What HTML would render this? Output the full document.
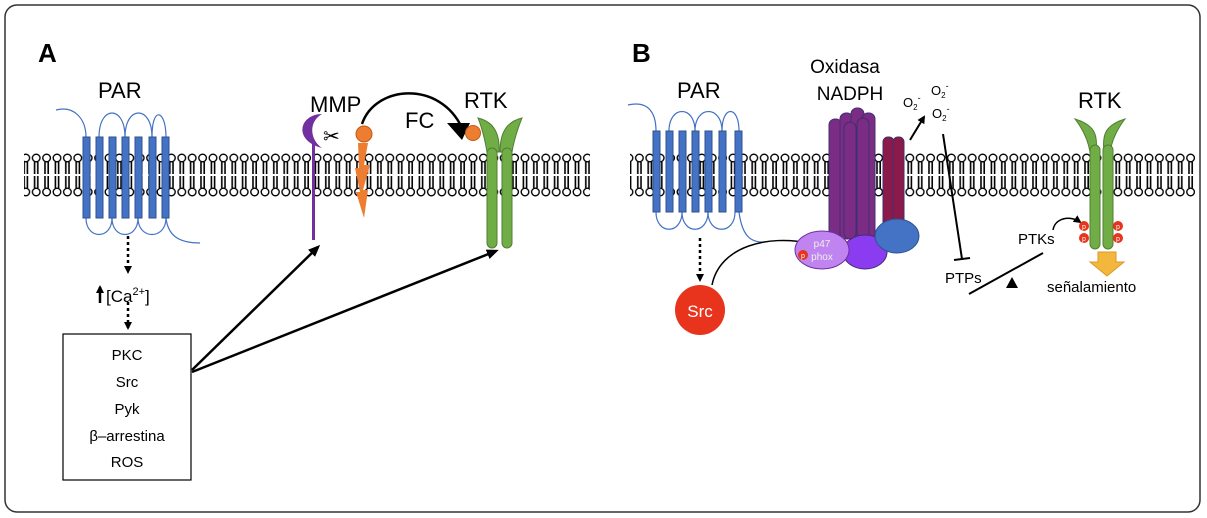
<!DOCTYPE html>
<html><head><meta charset="utf-8"><style>
html,body{margin:0;padding:0;background:#fff}
svg{display:block}
text{font-family:"Liberation Sans","DejaVu Sans",sans-serif}
</style></head><body>
<svg width="1207" height="518" viewBox="0 0 1207 518" xmlns="http://www.w3.org/2000/svg">
<defs>
<pattern id="mem" x="0" y="0" width="10.4" height="518" patternUnits="userSpaceOnUse">
<circle cx="5" cy="158" r="3.8" fill="#fff" stroke="#000" stroke-width="1.4"/>
<circle cx="5" cy="192" r="3.8" fill="#fff" stroke="#000" stroke-width="1.4"/>
<rect x="2.6" y="162" width="1.6" height="12" fill="#000"/>
<rect x="5.8" y="162" width="1.6" height="12" fill="#000"/>
<rect x="2.6" y="176" width="1.6" height="12" fill="#000"/>
<rect x="5.8" y="176" width="1.6" height="12" fill="#000"/>
</pattern>
<marker id="ah" markerWidth="8" markerHeight="8" refX="6" refY="4" orient="auto" markerUnits="userSpaceOnUse"><path d="M0,0 L8,4 L0,8 z" fill="#000"/></marker>
<marker id="ah2" markerWidth="12" markerHeight="10" refX="9" refY="5" orient="auto" markerUnits="userSpaceOnUse"><path d="M0,0 L12,5 L0,10 z" fill="#000"/></marker>
</defs>
<rect x="5" y="5" width="1195" height="507" rx="12" fill="#fff" stroke="#333" stroke-width="1.5"/>
<rect x="24" y="150" width="566" height="48" fill="url(#mem)"/>
<rect x="630" y="150" width="565" height="48" fill="url(#mem)"/>

<text x="38" y="62" font-size="26" font-weight="bold">A</text>
<text x="632" y="62" font-size="26" font-weight="bold">B</text>
<text x="98" y="98" font-size="22">PAR</text>
<text x="677" y="98" font-size="22">PAR</text>

<!-- PAR A -->
<g fill="none" stroke="#4472c4" stroke-width="1.2">
<path d="M56,110 C75,105 86,120 86,137"/>
<path d="M99,137 C99,105 125,105 125,137"/>
<path d="M125,137 C125,105 152,105 152,137"/>
<path d="M152,137 C152,105 166,110 166,137"/>
<path d="M86,218 C86,240 112,240 112,218"/>
<path d="M112,218 C112,240 138,240 138,218"/>
<path d="M138,218 C138,240 166,240 166,218"/>
<path d="M166,218 C168,235 178,243 200,243"/>
</g>
<g fill="#4472c4" stroke="#2f528f" stroke-width="1">
<rect x="83" y="137" width="7" height="81"/><rect x="96" y="137" width="7" height="81"/><rect x="109" y="137" width="7" height="81"/><rect x="122" y="137" width="7" height="81"/><rect x="135" y="137" width="7" height="81"/><rect x="149" y="137" width="7" height="81"/><rect x="162" y="137" width="7" height="81"/>
</g>
<line x1="128" y1="236" x2="128" y2="272" stroke="#000" stroke-width="2.5" stroke-dasharray="3,3" marker-end="url(#ah)"/>
<line x1="128" y1="302" x2="128" y2="328" stroke="#000" stroke-width="2.5" stroke-dasharray="3,3" marker-end="url(#ah)"/>
<line x1="100" y1="303" x2="100" y2="287" stroke="#000" stroke-width="2.5" marker-end="url(#ah)"/>
<text x="106" y="302" font-size="17">[Ca<tspan font-size="11" dy="-7">2+</tspan><tspan dy="7">]</tspan></text>
<rect x="63" y="334" width="128" height="146" fill="#fff" stroke="#000" stroke-width="1.2"/>
<g font-size="15" text-anchor="middle">
<text x="127" y="360">PKC</text><text x="127" y="387">Src</text><text x="127" y="414">Pyk</text><text x="127" y="441">β–arrestina</text><text x="127" y="467">ROS</text>
</g>
<line x1="192" y1="370" x2="318" y2="247" stroke="#000" stroke-width="2.5" marker-end="url(#ah2)"/>
<line x1="192" y1="372" x2="496" y2="251" stroke="#000" stroke-width="2.5" marker-end="url(#ah2)"/>

<!-- MMP -->
<text x="310" y="112" font-size="22">MMP</text>
<path d="M322,114 C300,114 292,140 322,148 C310,140 308,122 322,114 z" fill="#7030a0"/>
<rect x="312" y="140" width="3" height="100" fill="#7030a0"/>
<text x="323" y="143" font-size="20">✂</text>
<circle cx="364" cy="134" r="8" fill="#ed7d31" stroke="#c55a11"/>
<path d="M358,143 L368,143 L364,165 L370,165 L363,190 L368,190 L364,218 L356,192 L360,192 L355,168 L359,168 z" fill="#ed7d31"/>
<path d="M362,124 C375,85 440,80 462,128" fill="none" stroke="#000" stroke-width="2.5"/>
<path d="M447,123 L470,123 L462,140 z" fill="#000"/>
<text x="405" y="128" font-size="22">FC</text>
<circle cx="473" cy="133" r="7.5" fill="#ed7d31" stroke="#c55a11"/>
<!-- RTK A -->
<text x="464" y="108" font-size="22">RTK</text>
<g fill="#70ad47" stroke="#507e32" stroke-width="1">
<path d="M478,118 C495,122 500,135 499,152 L487,152 C485,140 482,128 478,118 z"/>
<path d="M522,118 C505,122 500,135 500,152 L512,152 C514,140 518,128 522,118 z"/>
<rect x="487" y="148" width="10" height="100" rx="5"/>
<rect x="502" y="148" width="10" height="100" rx="5"/>
</g>

<!-- PAR B -->
<g fill="none" stroke="#4472c4" stroke-width="1.2">
<path d="M628,105 C650,100 656,115 656,131"/>
<path d="M669,131 C669,105 695,105 695,131"/>
<path d="M695,131 C695,105 722,105 722,131"/>
<path d="M722,131 C722,105 739,105 739,131"/>
<path d="M656,212 C656,235 682,235 682,212"/>
<path d="M682,212 C682,235 708,235 708,212"/>
<path d="M708,212 C708,235 735,235 735,212"/>
<path d="M739,212 C742,235 750,243 765,242"/>
</g>
<g fill="#4472c4" stroke="#2f528f" stroke-width="1">
<rect x="653" y="131" width="7" height="81"/><rect x="666" y="131" width="7" height="81"/><rect x="679" y="131" width="7" height="81"/><rect x="692" y="131" width="7" height="81"/><rect x="705" y="131" width="7" height="81"/><rect x="719" y="131" width="7" height="81"/><rect x="735" y="131" width="7" height="81"/>
</g>
<line x1="700" y1="238" x2="700" y2="280" stroke="#000" stroke-width="2.5" stroke-dasharray="3,3" marker-end="url(#ah)"/>
<circle cx="700" cy="310" r="25" fill="#e8341c"/>
<text x="700" y="317" font-size="17" fill="#fff" text-anchor="middle">Src</text>
<path d="M712,285 C720,245 770,235 808,243" fill="none" stroke="#000" stroke-width="1.5" marker-end="url(#ah)"/>

<!-- NADPH -->
<text x="845" y="73" font-size="19" text-anchor="middle">Oxidasa</text>
<text x="850" y="100" font-size="19" text-anchor="middle">NADPH</text>
<g fill="#7b2c85" stroke="#3f2f6e" stroke-width="1">
<rect x="829" y="119" width="13" height="120" rx="6"/>
<rect x="840" y="113" width="13" height="126" rx="6"/>
<rect x="851" y="108" width="13" height="131" rx="6"/>
<rect x="862" y="113" width="13" height="126" rx="6"/>
<rect x="844" y="122" width="12" height="117" rx="6"/>
<rect x="857" y="118" width="12" height="121" rx="6"/>
</g>
<g fill="#8b1a4a" stroke="#3f2f6e" stroke-width="1">
<rect x="883" y="137" width="11" height="100" rx="5"/>
<rect x="893" y="137" width="11" height="100" rx="5"/>
</g>
<ellipse cx="865" cy="252" rx="22" ry="17" fill="#8b3cf0" stroke="#3f2f6e"/>
<ellipse cx="897" cy="236" rx="22" ry="17" fill="#4472c4" stroke="#2f528f"/>
<ellipse cx="822" cy="250" rx="27" ry="19" fill="#c084f0" stroke="#7030a0"/>
<text x="822" y="247" font-size="10" fill="#eee" text-anchor="middle">p47</text>
<text x="822" y="260" font-size="10" fill="#eee" text-anchor="middle">phox</text>
<circle cx="803" cy="255" r="5" fill="#e8341c"/>
<text x="803" y="258" font-size="7" fill="#fff" text-anchor="middle">p</text>

<!-- ROS -->
<line x1="910" y1="140" x2="924" y2="117" stroke="#000" stroke-width="2" marker-end="url(#ah)"/>
<text x="903" y="107" font-size="13">O<tspan font-size="8" dy="3">2</tspan><tspan font-size="9" dy="-9">-</tspan></text>
<text x="931" y="95" font-size="13">O<tspan font-size="8" dy="3">2</tspan><tspan font-size="9" dy="-9">-</tspan></text>
<text x="932" y="118" font-size="13">O<tspan font-size="8" dy="3">2</tspan><tspan font-size="9" dy="-9">-</tspan></text>
<line x1="943" y1="134" x2="962" y2="259" stroke="#000" stroke-width="2"/>
<line x1="954" y1="260" x2="970" y2="258" stroke="#000" stroke-width="2"/>
<text x="945" y="283" font-size="15">PTPs</text>
<line x1="969" y1="294" x2="1043" y2="253" stroke="#000" stroke-width="2"/>
<path d="M1006,288 L1018,288 L1012,277 z" fill="#000"/>
<text x="1018" y="244" font-size="15">PTKs</text>
<path d="M1053,230 C1055,218 1070,215 1080,222" fill="none" stroke="#000" stroke-width="1.5" marker-end="url(#ah)"/>

<!-- RTK B -->
<text x="1078" y="108" font-size="22">RTK</text>
<g fill="#70ad47" stroke="#507e32" stroke-width="1">
<path d="M1075,119 C1095,125 1098,135 1096,152 L1090,152 C1088,140 1082,128 1075,119 z"/>
<path d="M1125,119 C1105,125 1102,135 1104,152 L1110,152 C1112,140 1118,128 1125,119 z"/>
<rect x="1090" y="145" width="10" height="104" rx="5"/>
<rect x="1103" y="145" width="10" height="104" rx="5"/>
</g>
<g fill="#e8341c"><circle cx="1084" cy="226" r="5"/><circle cx="1084" cy="238" r="5"/><circle cx="1118" cy="226" r="5"/><circle cx="1118" cy="238" r="5"/></g>
<g font-size="7" fill="#fff" text-anchor="middle"><text x="1084" y="229">p</text><text x="1084" y="241">p</text><text x="1118" y="229">p</text><text x="1118" y="241">p</text></g>
<path d="M1098,252 L1116,252 L1116,262 L1124,262 L1107,276 L1090,262 L1098,262 z" fill="#f4b73d" stroke="#d99a20"/>
<text x="1047" y="292" font-size="15">señalamiento</text>
</svg>
</body></html>
